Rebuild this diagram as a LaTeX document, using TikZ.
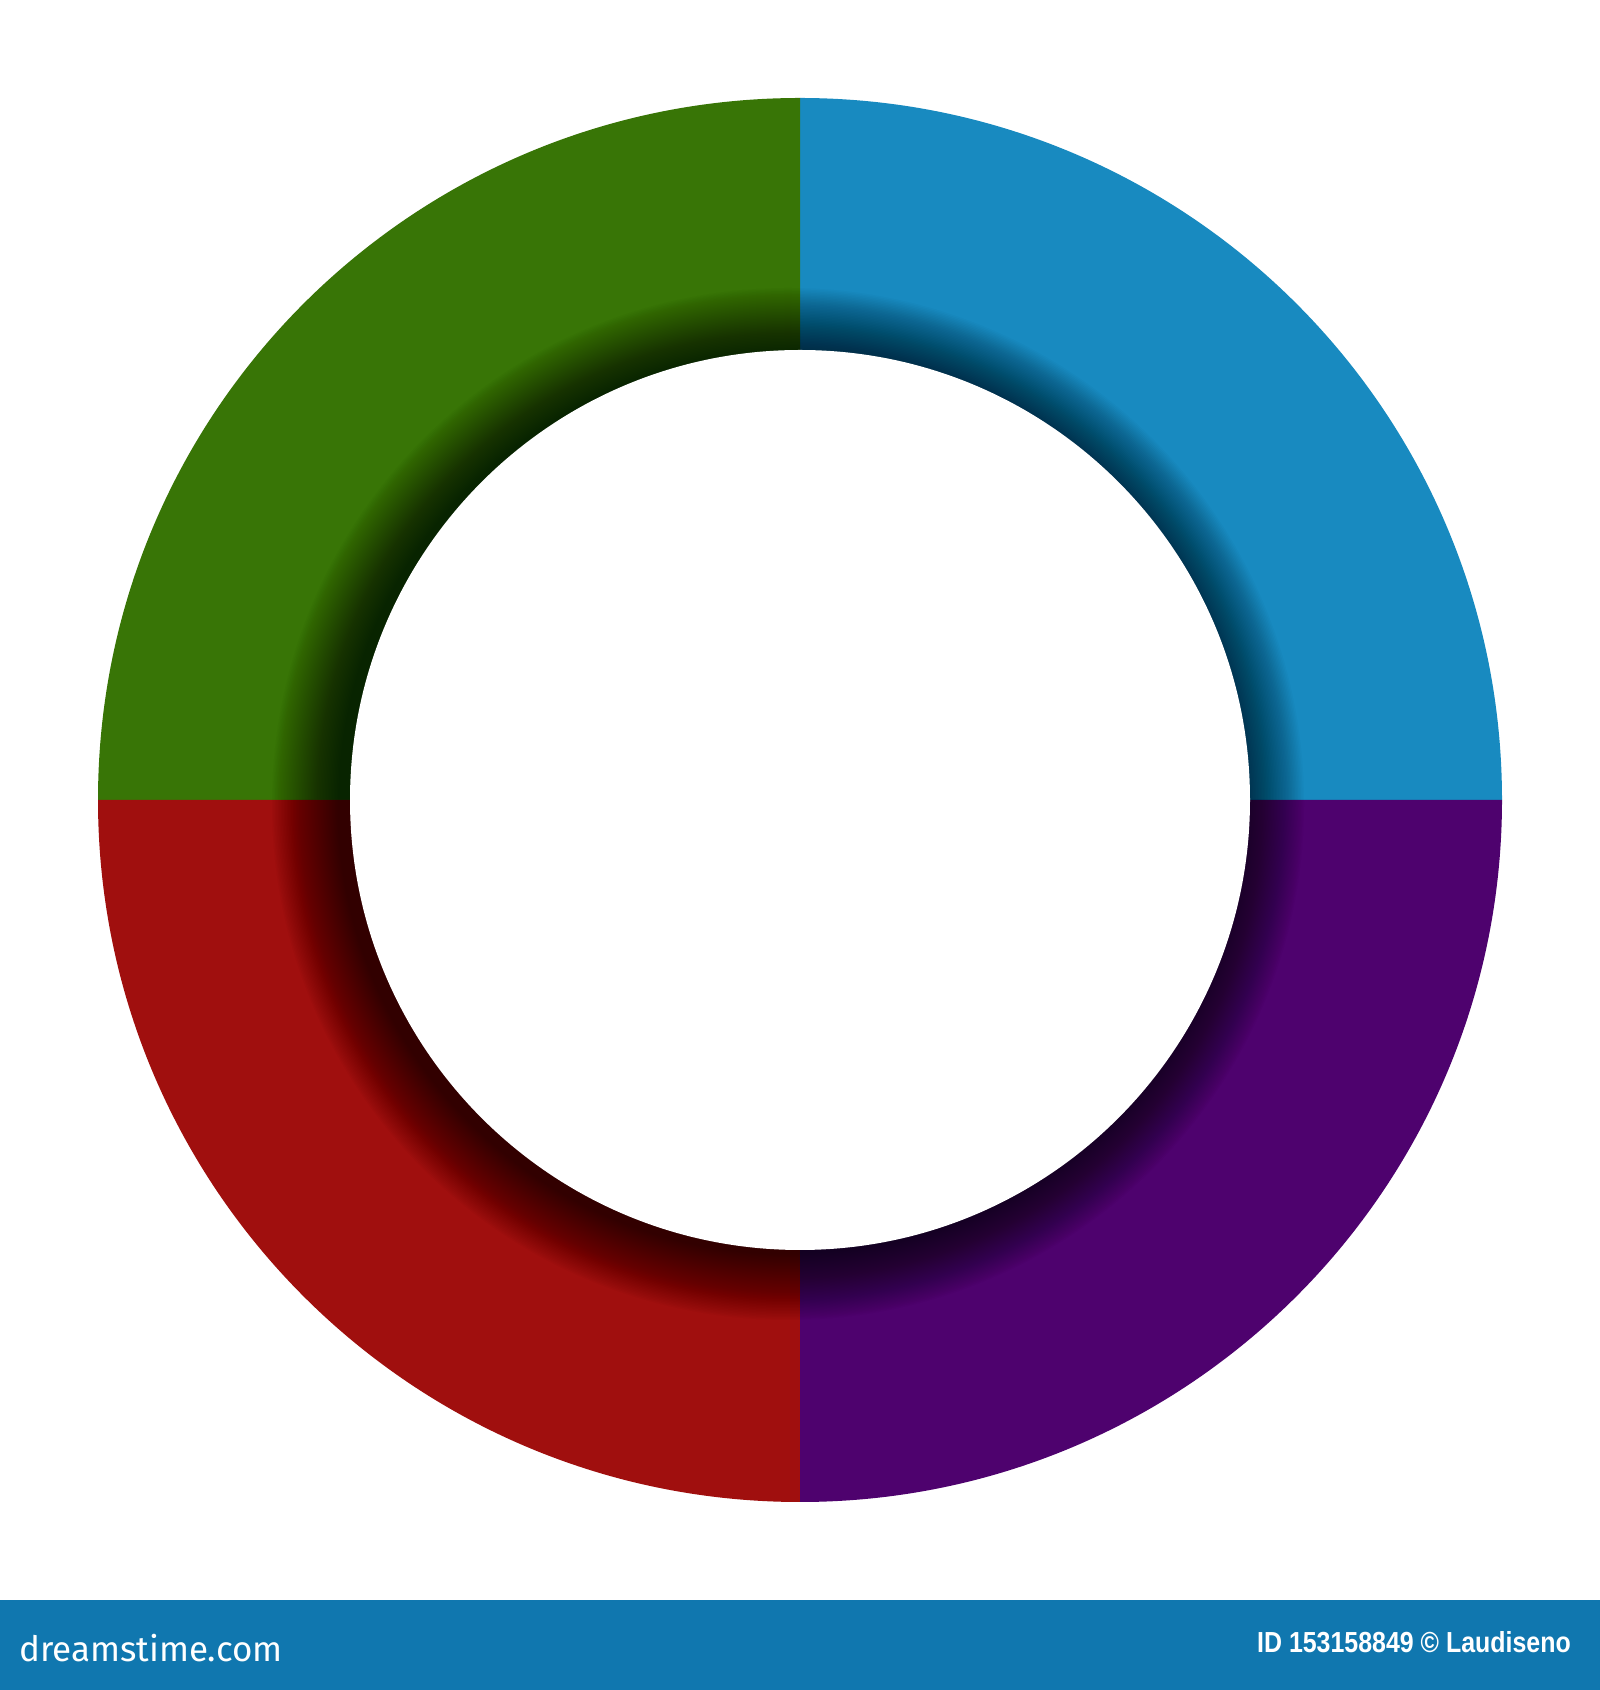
\documentclass[tikz,border=0pt]{standalone}
\usepackage{fontspec}
\setmainfont{Liberation Sans}
\newfontfamily\logofont{Fira Sans}
\definecolor{qgreen}{RGB}{56,117,6}
\definecolor{qblue}{RGB}{24,138,192}
\definecolor{qred}{RGB}{160,15,14}
\definecolor{qpurple}{RGB}{78,2,110}
\definecolor{banner}{RGB}{16,119,175}
\tikzset{
  bannertext/.style={inner sep=0pt, text=white}
}
\begin{document}
\begin{tikzpicture}[x=1pt,y=1pt]
\useasboundingbox (0,0) rectangle (1600,1690);
\fill[white] (0,0) rectangle (1600,1690);
\coordinate (c) at (800,890);
% quadrants
\fill[qblue]   (c) -- ++(0:702)   arc[start angle=0,   end angle=90,  radius=702] -- cycle;
\fill[qgreen]  (c) -- ++(90:702)  arc[start angle=90,  end angle=180, radius=702] -- cycle;
\fill[qred]    (c) -- ++(180:702) arc[start angle=180, end angle=270, radius=702] -- cycle;
\fill[qpurple] (c) -- ++(270:702) arc[start angle=270, end angle=360, radius=702] -- cycle;
% inner shadow
\begin{scope}
  \clip (c) circle[radius=702];
  \foreach \i in {0,...,44} {
    \fill[black, opacity=0.018] ([xshift=-12pt,yshift=-4pt]c) circle[radius=450+1.5*\i];
  }
\end{scope}
% inner white circle
\fill[white] (c) circle[radius=450];
% banner
\fill[banner] (0,0) rectangle (1600,90);
\node[bannertext, anchor=base west, font=\logofont\fontsize{35}{38}\selectfont] (logo) at (19,28) {dreamstime.com};
\node[bannertext, anchor=base east, font=\bfseries\fontsize{29}{32}\selectfont] (credit) at (1571,37) {\scalebox{0.86}[1]{ID 153158849 © Laudiseno}};
\end{tikzpicture}
\end{document}
